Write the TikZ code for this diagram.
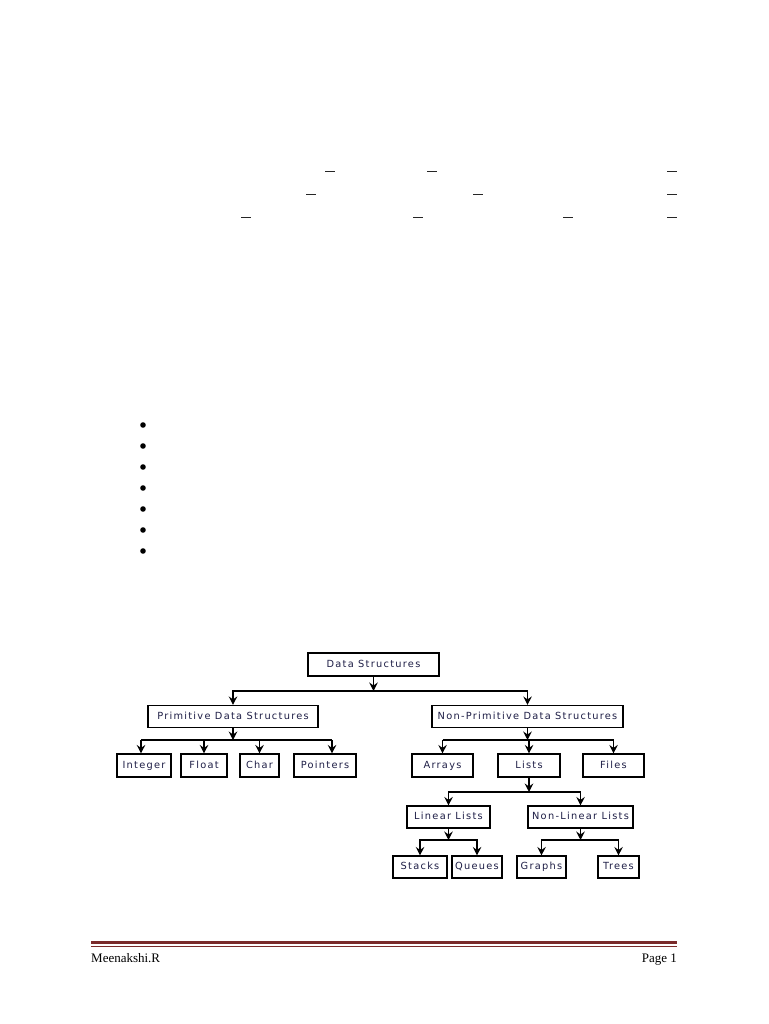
\documentclass[tikz,border=0pt]{standalone}
\usepackage{fontspec}
\setmainfont{Liberation Serif}
\newfontfamily\diagfont[LetterSpace=13]{DejaVu Sans}
\usetikzlibrary{arrows.meta}
\definecolor{boxtext}{HTML}{1E1E46}
\definecolor{footred}{HTML}{7A2A2A}
\begin{document}
\begin{tikzpicture}[x=1pt,y=-1pt,
  bx/.style={draw=black,line width=1.1pt,inner sep=0pt,minimum height=22pt,
    text height=7.2pt,text depth=2.2pt,
    font=\diagfont\fontsize{9.8}{11}\selectfont,text=boxtext},
  arw/.style={line width=1.2pt,-{Stealth[length=8.5pt,width=8.5pt,inset=3pt]}},
  ln/.style={line width=1.2pt},
  dashmark/.style={line width=0.9pt,draw=black!85},
  bul/.style={fill=black,draw=none}]
\useasboundingbox (0,0) rectangle (768,1024);
\fill[white] (0,0) rectangle (768,1024);
% stray dashes
\foreach \xa/\ya in {325/171,427/171,667/171,306/194,473/194,667/194,241/217,413/217,563/217,667/217}
  \draw[dashmark] (\xa,\ya) -- ++(9.5,0);
% bullets
\foreach \yb in {425,446,467,488,509,530,551}
  \fill[bul] (143,\yb) circle (2.8pt);
% tree nodes
\node[bx,minimum width=131pt,minimum height=23pt] (ds) at (373.5,664.5) {Data Structures};
\node[bx,minimum width=170pt] (prim) at (233,716.5) {Primitive Data Structures};
\node[bx,minimum width=191pt] (np) at (527.5,716.5) {Non-Primitive Data Structures};
\node[bx,minimum width=54pt,minimum height=23pt] (int) at (144,765.5) {Integer};
\node[bx,minimum width=46pt,minimum height=23pt] (flt) at (204,765.5) {Float};
\node[bx,minimum width=39pt,minimum height=23pt] (chr) at (259.5,765.5) {Char};
\node[bx,minimum width=62pt,minimum height=23pt] (ptr) at (325,765.5) {Pointers};
\node[bx,minimum width=61pt,minimum height=23pt] (arys) at (442.5,765.5) {Arrays};
\node[bx,minimum width=62pt,minimum height=23pt] (lst) at (529,765.5) {Lists};
\node[bx,minimum width=61pt,minimum height=23pt] (fil) at (613.5,765.5) {Files};
\node[bx,minimum width=83pt] (lin) at (448.5,817) {Linear Lists};
\node[bx,minimum width=105pt] (nlin) at (580.5,817) {Non-Linear Lists};
\node[bx,minimum width=54pt] (stk) at (420,867) {Stacks};
\node[bx,minimum width=50pt] (que) at (477,867) {Queues};
\node[bx,minimum width=49pt] (grp) at (541.5,867) {Graphs};
\node[bx,minimum width=41pt] (tre) at (618.5,867) {Trees};
% bus coordinates
\coordinate (b1) at (0,691);
\coordinate (b2) at (0,740);
\coordinate (b3) at (0,792);
\coordinate (b4) at (0,840);
\coordinate (pl) at (141,740);
\coordinate (pr) at (332,740);
% level 1
\draw[arw] (ds.south) -- (ds.south |- b1);
\draw[arw] (ds.south |- b1) -| (prim.north);
\draw[arw] (ds.south |- b1) -| (np.north);
% primitive children
\draw[arw] (prim.south) -- (prim.south |- b2);
\draw[ln] (pl) -- (pr);
\draw[arw] (pl) -- (pl |- int.north);
\draw[arw] (flt.north |- b2) -- (flt.north);
\draw[arw] (chr.north |- b2) -- (chr.north);
\draw[arw] (pr) -- (pr |- ptr.north);
% non-primitive children
\draw[arw] (np.south) -- (np.south |- b2);
\draw[ln] (arys.north |- b2) -- (fil.north |- b2);
\draw[arw] (arys.north |- b2) -- (arys.north);
\draw[arw] (lst.north |- b2) -- (lst.north);
\draw[arw] (fil.north |- b2) -- (fil.north);
% lists children
\draw[arw] (lst.south) -- (lst.south |- b3);
\draw[arw] (lst.south |- b3) -| (lin.north);
\draw[arw] (lst.south |- b3) -| (nlin.north);
% linear children
\draw[arw] (lin.south) -- (lin.south |- b4);
\draw[arw] (lin.south |- b4) -| (stk.north);
\draw[arw] (lin.south |- b4) -| (que.north);
% non-linear children
\draw[arw] (nlin.south) -- (nlin.south |- b4);
\draw[arw] (nlin.south |- b4) -| (grp.north);
\draw[arw] (nlin.south |- b4) -| (tre.north);
% footer
\draw[footred,line width=3pt] (91,942) -- (677,942);
\draw[footred,line width=0.8pt] (91,946) -- (677,946);
\node[anchor=base west,inner sep=0pt,font=\fontsize{13}{15}\selectfont] (auth) at (91,962) {Meenakshi.R};
\node[anchor=base east,inner sep=0pt,font=\fontsize{13}{15}\selectfont] (pg) at (677,962) {Page 1};
\end{tikzpicture}
\end{document}
